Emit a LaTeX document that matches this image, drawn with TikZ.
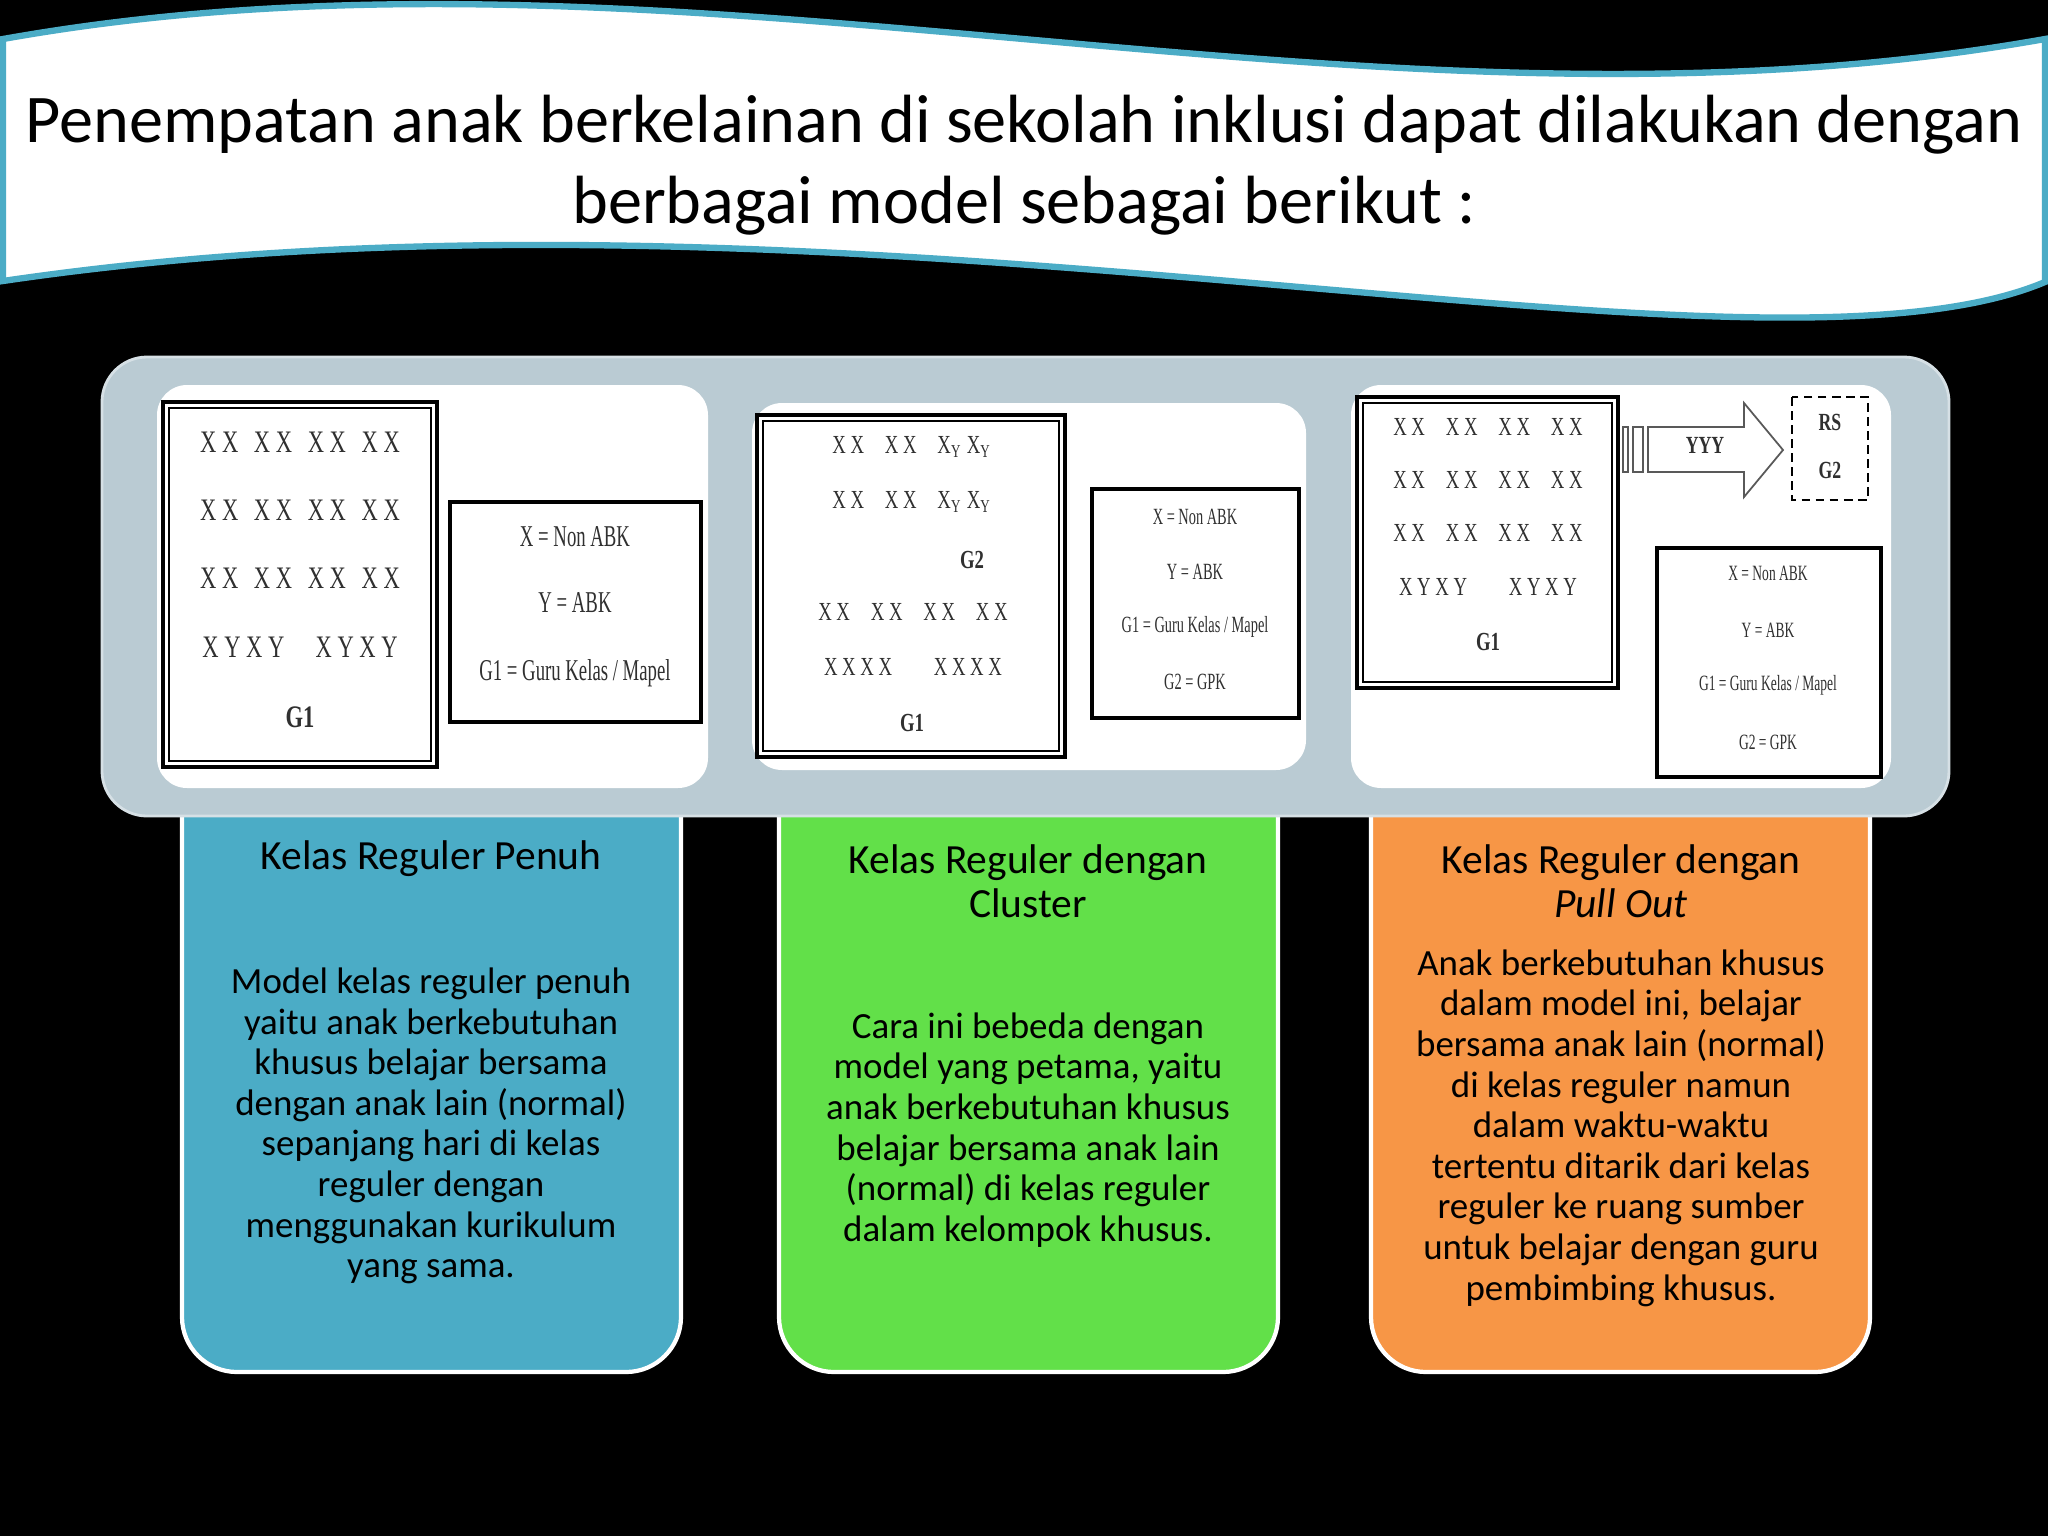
\documentclass[tikz,border=0pt]{standalone}
\usepackage{fontspec}
\setmainfont{Carlito}
\newfontfamily\roomfont[FakeStretch=0.72]{Liberation Serif}
\newfontfamily\keyfont[FakeStretch=0.62]{Liberation Serif}

\definecolor{bannerblue}{HTML}{4BACC6}
\definecolor{panelgray}{HTML}{BACBD3}
\definecolor{cardblue}{HTML}{4BACC6}
\definecolor{cardgreen}{HTML}{62E049}
\definecolor{cardorange}{HTML}{F79646}
\definecolor{seatgray}{HTML}{303030}

\newcommand{\seatgap}{\hspace{0.5em}}
\newcommand{\widegap}{\hspace{0.8em}}

\begin{document}
\begin{tikzpicture}[x=0.01cm, y=-0.01cm,
    seat/.style={font=\roomfont\fontsize{#1}{#1}\selectfont, text=seatgray, inner sep=0pt},
    keytext/.style={font=\keyfont\fontsize{#1}{#1}\selectfont, text=seatgray, inner sep=0pt},
    cardhead/.style={font=\fontsize{11.8}{12.6}\selectfont, align=center, inner sep=0pt},
    cardbody/.style={font=\fontsize{10.5}{11.55}\selectfont, align=center, inner sep=0pt},
    card/.style={draw=white, line width=1.2pt, rounded corners=0.55cm},
    tile/.style={fill=white, rounded corners=0.3cm},
    room/.style={line width=1.3pt},
    roominner/.style={line width=0.4pt}]

    % Background
    \fill[black] (0,0) rectangle (2048,1536);
    \useasboundingbox (0,0) rectangle (2048,1536);

    % Title banner
    \draw[bannerblue, line width=1.8pt, fill=white]
        (3,39) .. controls (682,-82) and (1364,160) .. (2045,39) -- (2045,282)
        .. controls (1750,406) and (850,156) .. (3,281) -- cycle;
    \node[font=\fontsize{19.4}{23}\selectfont, align=center] (title) at (1024,165)
        {Penempatan anak berkelainan di sekolah inklusi dapat dilakukan dengan\\ berbagai model sebagai berikut :};

    % Coloured cards (top edge hidden under the panel)
    \draw[card, fill=cardblue] (182,790) -- (182,1372) -- (681,1372) -- (681,790);
    \draw[card, fill=cardgreen] (779,790) -- (779,1372) -- (1278,1372) -- (1278,790);
    \draw[card, fill=cardorange] (1371,790) -- (1371,1372) -- (1870,1372) -- (1870,790);

    % Gray panel with the three pictures
    \draw[fill=panelgray, draw=panelgray!60!white, line width=0.8pt, rounded corners=0.45cm] (102,357) rectangle (1949,816);
    \fill[tile] (157,385) rectangle (708,788);
    \fill[tile] (752,403) rectangle (1306,770);
    \fill[tile] (1351,385) rectangle (1891,788);

    % Picture 1: kelas reguler penuh
    \draw[room] (163,402) rectangle (437,767);
    \draw[roominner] (169,408) rectangle (431,761);
    \node[seat=8.9] (pa1) at (300,442) {X X\seatgap X X\seatgap X X\seatgap X X};
    \node[seat=8.9] (pa2) at (300,510) {X X\seatgap X X\seatgap X X\seatgap X X};
    \node[seat=8.9] (pa3) at (300,578) {X X\seatgap X X\seatgap X X\seatgap X X};
    \node[seat=8.9] (pa4) at (300,647) {X Y X Y\seatgap\seatgap X Y X Y};
    \node[seat=8.9] (ga1) at (300,717) {\bfseries G1};
    \draw[room] (450,502) rectangle (701,722);
    \node[keytext=8.6] (ka1) at (575,537) {X = Non ABK};
    \node[keytext=8.6] (ka2) at (575,603) {Y = ABK};
    \node[keytext=8.6] (ka3) at (575,673) {G1 = Guru Kelas / Mapel};

    % Picture 2: cluster
    \draw[room] (757,415) rectangle (1065,757);
    \draw[roominner] (763,421) rectangle (1059,751);
    \node[seat=7.4] (pb1) at (912,447) {X X\widegap X X\widegap X\textsubscript{Y} X\textsubscript{Y}};
    \node[seat=7.4] (pb2) at (912,502) {X X\widegap X X\widegap X\textsubscript{Y} X\textsubscript{Y}};
    \node[seat=7.4] (gb2) at (972,560) {\bfseries G2};
    \node[seat=7.4] (pb3) at (913,612) {X X\widegap X X\widegap X X\widegap X X};
    \node[seat=7.4] (pb4) at (913,667) {X X X X\widegap\widegap X X X X};
    \node[seat=7.4] (gb1) at (912,723) {\bfseries G1};
    \draw[room] (1092,489) rectangle (1299,718);
    \node[keytext=6.6] (kb1) at (1195,517) {X = Non ABK};
    \node[keytext=6.6] (kb2) at (1195,572) {Y = ABK};
    \node[keytext=6.6] (kb3) at (1195,627) {G1 = Guru Kelas / Mapel};
    \node[keytext=6.6] (kb4) at (1195,682) {G2 = GPK};

    % Picture 3: pull out
    \draw[room] (1357,397) rectangle (1618,688);
    \draw[roominner] (1363,403) rectangle (1612,682);
    \node[seat=7.4] (pc1) at (1488,427) {X X\widegap X X\widegap X X\widegap X X};
    \node[seat=7.4] (pc2) at (1488,480) {X X\widegap X X\widegap X X\widegap X X};
    \node[seat=7.4] (pc3) at (1488,533) {X X\widegap X X\widegap X X\widegap X X};
    \node[seat=7.4] (pc4) at (1488,587) {X Y X Y\widegap\widegap X Y X Y};
    \node[seat=7.4] (gc1) at (1488,642) {\bfseries G1};
    \draw[gray!70!black, line width=0.5pt] (1623,427) rectangle (1628,472);
    \draw[gray!70!black, line width=0.5pt] (1633,427) rectangle (1643,472);
    \draw[gray!70!black, line width=0.5pt] (1648,427) -- (1744,427) -- (1744,403) -- (1783,450)
        -- (1744,497) -- (1744,472) -- (1648,472) -- cycle;
    \node[seat=7] (yyy) at (1705,445) {\bfseries YYY};
    \draw[line width=0.6pt, dash pattern=on 2.5pt off 1.5pt] (1792,397) rectangle (1868,500);
    \node[seat=7] (rs) at (1830,422) {\bfseries RS};
    \node[seat=7] (gc2) at (1830,470) {\bfseries G2};
    \draw[room] (1657,548) rectangle (1881,777);
    \node[keytext=6.2] (kc1) at (1768,573) {X = Non ABK};
    \node[keytext=6.2] (kc2) at (1768,630) {Y = ABK};
    \node[keytext=6.2] (kc3) at (1768,685) {G1 = Guru Kelas / Mapel};
    \node[keytext=6.2] (kc4) at (1768,742) {G2 = GPK};

    % Card texts
    \node[cardhead] (headA) at (431,859) {Kelas Reguler Penuh};
    \node[cardbody] (bodyA) at (431,1126) {Model kelas reguler penuh\\ yaitu anak berkebutuhan\\ khusus belajar bersama\\
        dengan anak lain (normal)\\ sepanjang hari di kelas\\ reguler dengan\\ menggunakan kurikulum\\ yang sama.};
    \node[cardhead] (headB) at (1028,881) {Kelas Reguler dengan\\ Cluster};
    \node[cardbody] (bodyB) at (1028,1130) {Cara ini bebeda dengan\\ model yang petama, yaitu\\ anak berkebutuhan khusus\\
        belajar bersama anak lain\\ (normal) di kelas reguler\\ dalam kelompok khusus.};
    \node[cardhead] (headC) at (1621,881) {Kelas Reguler dengan\\ \textit{Pull Out}};
    \node[cardbody] (bodyC) at (1621,1128) {Anak berkebutuhan khusus\\ dalam model ini, belajar\\ bersama anak lain (normal)\\
        di kelas reguler namun\\ dalam waktu-waktu\\ tertentu ditarik dari kelas\\ reguler ke ruang sumber\\
        untuk belajar dengan guru\\ pembimbing khusus.};

\end{tikzpicture}
\end{document}
